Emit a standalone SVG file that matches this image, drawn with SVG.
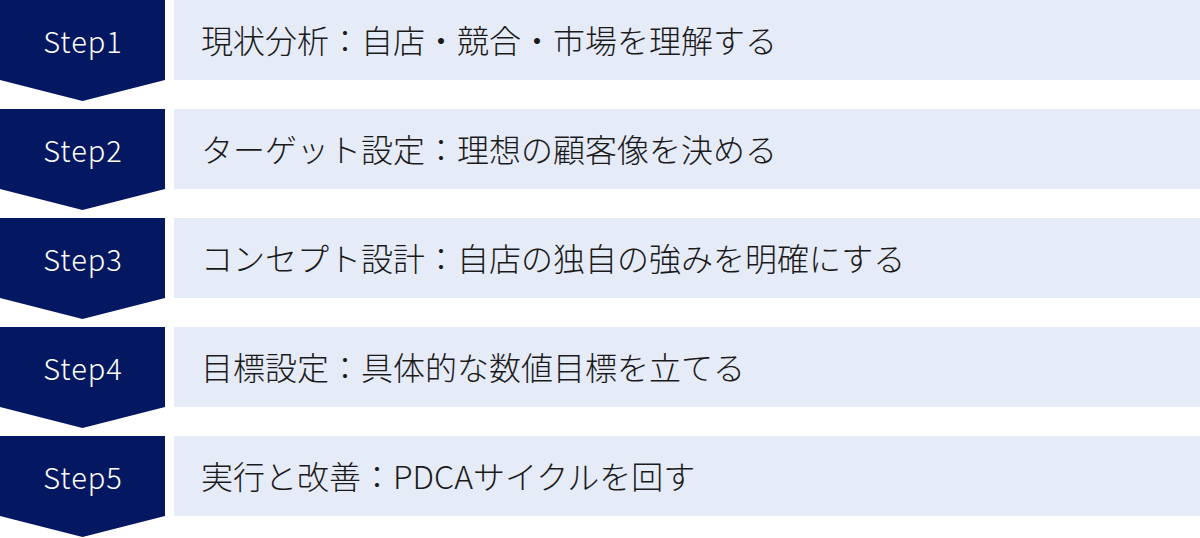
<svg xmlns="http://www.w3.org/2000/svg" width="1200" height="538" viewBox="0 0 1200 538">
<style>
.chev{fill:#041862}
.box{fill:#e6ebf8}
.step{font-family:"Noto Sans CJK JP","Noto Sans",sans-serif;font-size:29px;font-weight:300;fill:#ffffff;text-anchor:middle;letter-spacing:1px}
.label{font-family:"Noto Sans CJK JP","Noto Sans",sans-serif;font-size:32px;font-weight:300;fill:#1a1a1a}
</style>
<defs>
<path id="chevron" d="M0 0H165V80L82.5 101L0 80Z"/>
</defs>
<g id="connectors"></g>
<g id="step1" transform="translate(0,0)">
<use href="#chevron" class="chev"/>
<rect class="box" x="174" y="0" width="1026" height="80"/>
<text class="step" x="83" y="53">Step1</text>
<text class="label" x="201" y="53">現状分析：自店・競合・市場を理解する</text>
</g>
<g id="step2" transform="translate(0,109)">
<use href="#chevron" class="chev"/>
<rect class="box" x="174" y="0" width="1026" height="80"/>
<text class="step" x="83" y="53">Step2</text>
<text class="label" x="201" y="53">ターゲット設定：理想の顧客像を決める</text>
</g>
<g id="step3" transform="translate(0,218)">
<use href="#chevron" class="chev"/>
<rect class="box" x="174" y="0" width="1026" height="80"/>
<text class="step" x="83" y="53">Step3</text>
<text class="label" x="201" y="53">コンセプト設計：自店の独自の強みを明確にする</text>
</g>
<g id="step4" transform="translate(0,327)">
<use href="#chevron" class="chev"/>
<rect class="box" x="174" y="0" width="1026" height="80"/>
<text class="step" x="83" y="53">Step4</text>
<text class="label" x="201" y="53">目標設定：具体的な数値目標を立てる</text>
</g>
<g id="step5" transform="translate(0,436)">
<use href="#chevron" class="chev"/>
<rect class="box" x="174" y="0" width="1026" height="80"/>
<text class="step" x="83" y="53">Step5</text>
<text class="label" x="201" y="53">実行と改善：PDCAサイクルを回す</text>
</g>
</svg>
